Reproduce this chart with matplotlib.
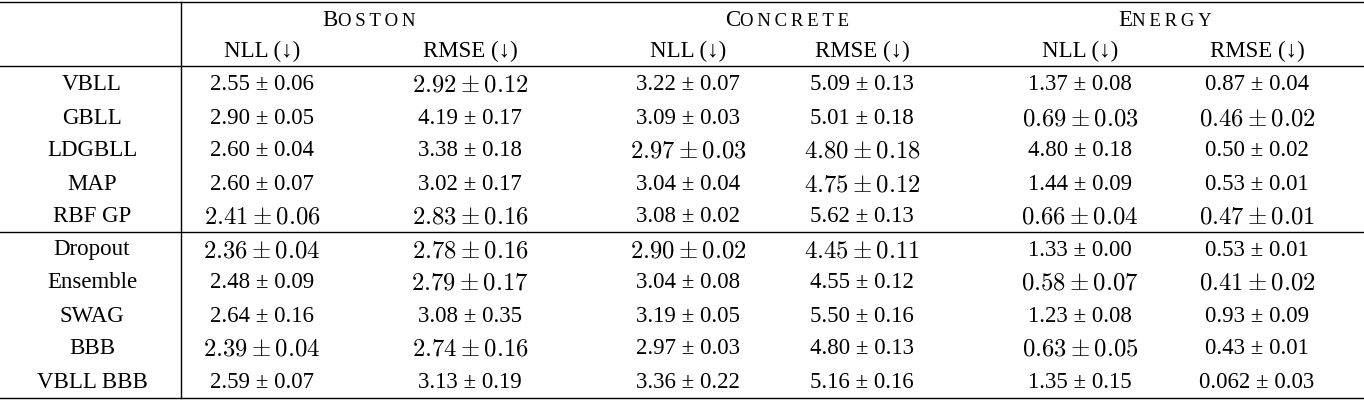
import matplotlib
matplotlib.use("Agg")
import matplotlib.pyplot as plt

plt.rcParams["mathtext.fontset"] = "cm"

methods = ["VBLL", "GBLL", "LDGBLL", "MAP", "RBF GP", "Dropout", "Ensemble", "SWAG", "BBB", "VBLL BBB"]
datasets = ["Boston", "Concrete", "Energy"]
metrics = ["NLL (↓)", "RMSE (↓)"]
values = [
    ["2.55 ± 0.06", "2.92 ± 0.12", "3.22 ± 0.07", "5.09 ± 0.13", "1.37 ± 0.08", "0.87 ± 0.04"],
    ["2.90 ± 0.05", "4.19 ± 0.17", "3.09 ± 0.03", "5.01 ± 0.18", "0.69 ± 0.03", "0.46 ± 0.02"],
    ["2.60 ± 0.04", "3.38 ± 0.18", "2.97 ± 0.03", "4.80 ± 0.18", "4.80 ± 0.18", "0.50 ± 0.02"],
    ["2.60 ± 0.07", "3.02 ± 0.17", "3.04 ± 0.04", "4.75 ± 0.12", "1.44 ± 0.09", "0.53 ± 0.01"],
    ["2.41 ± 0.06", "2.83 ± 0.16", "3.08 ± 0.02", "5.62 ± 0.13", "0.66 ± 0.04", "0.47 ± 0.01"],
    ["2.36 ± 0.04", "2.78 ± 0.16", "2.90 ± 0.02", "4.45 ± 0.11", "1.33 ± 0.00", "0.53 ± 0.01"],
    ["2.48 ± 0.09", "2.79 ± 0.17", "3.04 ± 0.08", "4.55 ± 0.12", "0.58 ± 0.07", "0.41 ± 0.02"],
    ["2.64 ± 0.16", "3.08 ± 0.35", "3.19 ± 0.05", "5.50 ± 0.16", "1.23 ± 0.08", "0.93 ± 0.09"],
    ["2.39 ± 0.04", "2.74 ± 0.16", "2.97 ± 0.03", "4.80 ± 0.13", "0.63 ± 0.05", "0.43 ± 0.01"],
    ["2.59 ± 0.07", "3.13 ± 0.19", "3.36 ± 0.22", "5.16 ± 0.16", "1.35 ± 0.15", "0.062 ± 0.03"],
]
bold = [
    [0, 1, 0, 0, 0, 0],
    [0, 0, 0, 0, 1, 1],
    [0, 0, 1, 1, 0, 0],
    [0, 0, 0, 1, 0, 0],
    [1, 1, 0, 0, 1, 1],
    [1, 1, 1, 1, 0, 0],
    [0, 1, 0, 0, 1, 1],
    [0, 0, 0, 0, 0, 0],
    [1, 1, 0, 0, 1, 0],
    [0, 0, 0, 0, 0, 0],
]

W, H = 1364, 401
fig = plt.figure(figsize=(W / 100, H / 100), dpi=100)
ax = fig.add_axes([0, 0, 1, 1])
ax.set_xlim(0, W)
ax.set_ylim(H, 0)
ax.axis("off")
fam = ["Liberation Serif", "DejaVu Serif"]
fs = 16.5

col_x = [262, 470, 688, 862, 1080, 1257]
group_x = [378, 780, 1172]
row_y = [85, 118, 151, 184, 217, 250, 283, 316, 349, 382]

for gx, name in zip(group_x, datasets):
    up = name.upper()
    ax.text(gx - 40, 20, up[0], ha="right", va="center", fontsize=fs, family=fam)
    ax.text(gx - 40, 21.5, " ".join(up[1:]).replace(" ", "\u2009"), ha="left", va="center",
            fontsize=fs * 0.82, family=fam)
for i, cx in enumerate(col_x):
    ax.text(cx, 51, metrics[i % 2], ha="center", va="center", fontsize=fs, family=fam)

for r, (m, y) in enumerate(zip(methods, row_y)):
    ax.text(92, y, m, ha="center", va="center", fontsize=fs, family=fam)
    for c, cx in enumerate(col_x):
        v = values[r][c]
        if bold[r][c]:
            a, b = v.split(" ± ")
            ax.text(cx, y, r"$\mathbf{%s\pm%s}$" % (a, b), ha="center", va="center",
                    fontsize=fs * 1.08)
        else:
            ax.text(cx, y, v, ha="center", va="center", fontsize=fs, family=fam)

lw = 1.0
ax.plot([0, W], [2, 2], color="black", lw=lw)
ax.plot([0, W], [66, 66], color="black", lw=lw)
ax.plot([0, W], [232, 232], color="black", lw=lw)
ax.plot([0, W], [398, 398], color="black", lw=lw)
ax.plot([181, 181], [2, 398], color="black", lw=lw)

fig.savefig("out.png", dpi=100)
